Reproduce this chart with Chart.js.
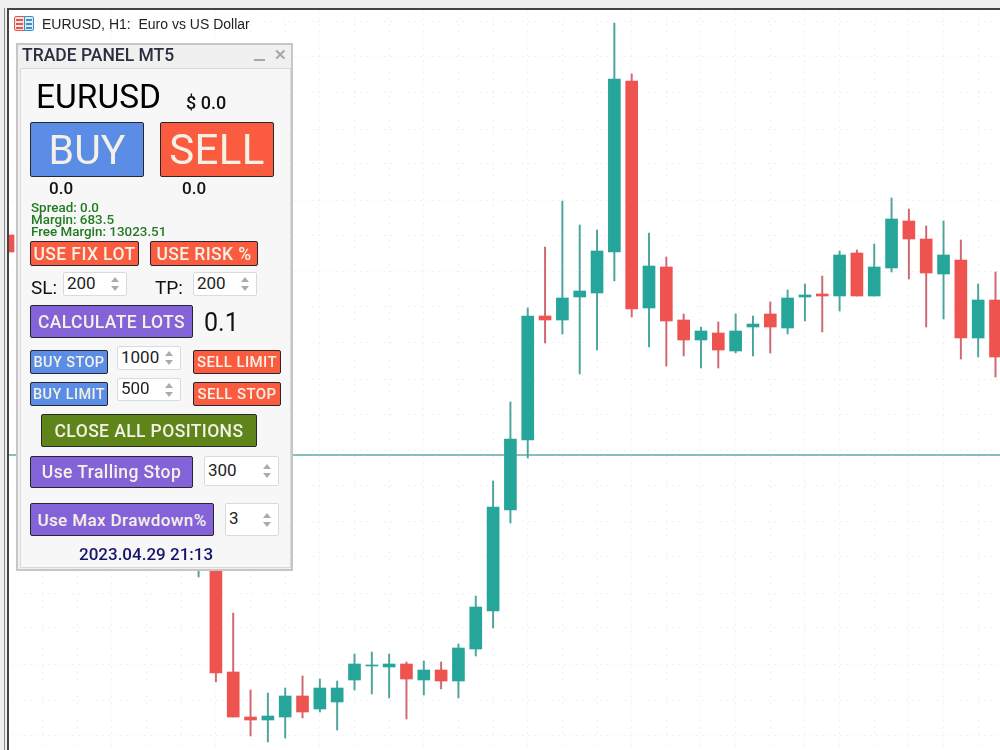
<!DOCTYPE html>
<html>
<head>
<meta charset="utf-8">
<title>EURUSD, H1</title>
<script src="https://cdn.jsdelivr.net/npm/chart.js@4/dist/chart.umd.min.js"></script>
<style>
  html, body { margin: 0; padding: 0; background: #fff; overflow: hidden; }
  #wrap { position: relative; width: 1000px; height: 750px; overflow: hidden; font-family: Roboto, sans-serif; }
  #chartbox { position: absolute; left: 0; top: 0; width: 1000px; height: 750px; }
  .abs, .btn, .spin, .txt { position: absolute; box-sizing: border-box; }
  .txt { white-space: nowrap; line-height: 1; }
  .btn { display: flex; align-items: center; justify-content: center; border: 1px solid #26262e; border-radius: 2px;
         white-space: nowrap; color: #f4f1e6; letter-spacing: .4px; font-weight: 500; }
  .blue { background: #5b8de6; }
  .red { background: #fb5b3f; }
  .purple { background: #8463d8; }
  .olive { background: #5f8419; }
  .spin { background: #fff; border: 1px solid #d6dbe0; border-radius: 2px; font-size: 17px; color: #222;
          display: flex; align-items: center; padding-left: 3px; padding-bottom: 3px; }
  .spin::before, .spin::after { content: ""; position: absolute; right: 7px; border-left: 4px solid transparent; border-right: 4px solid transparent; }
  .spin::before { top: calc(50% - 7px); border-bottom: 5px solid #a9adb0; }
  .spin::after { top: calc(50% + 2px); border-top: 5px solid #a9adb0; }
  .green { color: #217a21; font-size: 13.4px; font-weight: 500; }
</style>
</head>
<body>
<div id="wrap">
  <div id="chartbox"><canvas id="main-chart"></canvas></div>

  <!-- terminal window frame -->
  <div class="abs" style="left:0;top:0;width:1000px;height:8px;background:#f0f0f0;"></div>
  <div class="abs" style="left:7px;top:8px;width:993px;height:2px;background:#444;"></div>
  <div class="abs" style="left:0;top:0;width:7px;height:750px;background:#f0f0f0;"></div>
  <div class="abs" style="left:4px;top:8px;width:1px;height:742px;background:#888;"></div>
  <div class="abs" style="left:7px;top:8px;width:2px;height:742px;background:#444;"></div>

  <!-- chart title -->
  <div class="abs" style="left:14px;top:16px;width:11px;height:15px;background:#fbe3e1;border:1px solid #e2574c;border-radius:2px 0 0 2px;"></div>
  <div class="abs" style="left:24px;top:16px;width:10px;height:15px;background:#dcecf7;border:1px solid #3f8fc4;border-radius:0 2px 2px 0;"></div>
  <div class="abs" style="left:16px;top:19px;width:7px;height:2px;background:#e2574c;"></div>
  <div class="abs" style="left:16px;top:23px;width:7px;height:2px;background:#e2574c;"></div>
  <div class="abs" style="left:16px;top:27px;width:7px;height:2px;background:#e2574c;"></div>
  <div class="abs" style="left:26px;top:19px;width:6px;height:2px;background:#3f8fc4;"></div>
  <div class="abs" style="left:26px;top:23px;width:6px;height:2px;background:#3f8fc4;"></div>
  <div class="abs" style="left:26px;top:27px;width:6px;height:2px;background:#3f8fc4;"></div>
  <div class="txt" style="left:42px;top:17px;font-size:14px;color:#222;font-family:'Liberation Sans',sans-serif;">EURUSD, H1:&nbsp; Euro vs US Dollar</div>

  <!-- trade panel -->
  <div class="abs" style="left:16px;top:43px;width:277px;height:528px;background:#f0f0f0;border:2px solid #c6c6c6;"></div>
  <div class="abs" style="left:20px;top:68px;width:271px;height:500px;background:#f7f7f7;border:1px solid #d9d9d9;"></div>
  <div class="txt" style="left:22px;top:47px;font-size:17.5px;font-weight:500;color:#2a2f3f;">TRADE PANEL MT5</div>
  <div class="abs" style="left:254px;top:59px;width:11px;height:2px;background:#a8a8a8;"></div>
  <div class="txt" style="left:274px;top:48px;font-size:15px;font-weight:700;color:#a8a8a8;">✕</div>

  <div class="txt" style="left:36px;top:80px;font-size:33.5px;color:#000;">EURUSD</div>
  <div class="txt" style="left:186px;top:94px;font-size:18px;font-weight:500;color:#111;">$ 0.0</div>

  <div class="btn blue" style="left:30px;top:122px;width:114px;height:55px;font-size:41px;font-weight:400;letter-spacing:0;">BUY</div>
  <div class="btn red" style="left:160px;top:122px;width:114px;height:55px;font-size:42px;font-weight:400;">SELL</div>
  <div class="txt" style="left:49px;top:180px;font-size:17px;font-weight:500;color:#111;">0.0</div>
  <div class="txt" style="left:182px;top:180px;font-size:17px;font-weight:500;color:#111;">0.0</div>

  <div class="txt green" style="left:31px;top:201px;">Spread: 0.0</div>
  <div class="txt green" style="left:31px;top:213px;">Margin: 683.5</div>
  <div class="txt green" style="left:31px;top:225px;">Free Margin: 13023.51</div>

  <div class="btn red" style="left:30px;top:241px;width:109px;height:25px;font-size:17.5px;">USE FIX LOT</div>
  <div class="btn red" style="left:150px;top:241px;width:108px;height:25px;font-size:17.5px;">USE RISK %</div>

  <div class="txt" style="left:31px;top:278px;font-size:19px;color:#111;">SL:</div>
  <div class="spin" style="left:63px;top:272px;width:64px;height:24px;">200</div>
  <div class="txt" style="left:155px;top:278px;font-size:19px;color:#111;">TP:</div>
  <div class="spin" style="left:193px;top:272px;width:64px;height:24px;">200</div>

  <div class="btn purple" style="left:30px;top:305px;width:163px;height:33px;font-size:17.5px;">CALCULATE LOTS</div>
  <div class="txt" style="left:204px;top:310px;font-size:25px;color:#111;">0.1</div>

  <div class="btn blue" style="left:30px;top:350px;width:78px;height:24px;font-size:14.5px;">BUY STOP</div>
  <div class="spin" style="left:117px;top:346px;width:64px;height:24px;">1000</div>
  <div class="btn red" style="left:193px;top:350px;width:88px;height:24px;font-size:15px;">SELL LIMIT</div>
  <div class="btn blue" style="left:30px;top:382px;width:78px;height:24px;font-size:14.5px;">BUY LIMIT</div>
  <div class="spin" style="left:117px;top:378px;width:64px;height:23px;">500</div>
  <div class="btn red" style="left:193px;top:382px;width:88px;height:24px;font-size:15px;">SELL STOP</div>

  <div class="btn olive" style="left:41px;top:414px;width:216px;height:33px;font-size:17.5px;">CLOSE ALL POSITIONS</div>
  <div class="btn purple" style="left:30px;top:456px;width:163px;height:32px;font-size:17.5px;">Use Tralling Stop</div>
  <div class="spin" style="left:204px;top:456px;width:75px;height:30px;">300</div>
  <div class="btn purple" style="left:30px;top:503px;width:184px;height:33px;font-size:17px;">Use Max Drawdown%</div>
  <div class="spin" style="left:225px;top:503px;width:54px;height:33px;">3</div>
  <div class="txt" style="left:79px;top:546px;font-size:17px;font-weight:500;color:#14146e;">2023.04.29 21:13</div>
</div>

<script>
// ==================== DATOS ====================
const opens = [1.09515, null, null, null, null, null, null, null, null, null, null,
  1.09184, 1.09202, 1.09078, 1.09033, 1.09030, 1.09033, 1.09054, 1.09041, 1.09048,
  1.09070, 1.09084, 1.09083, 1.09086, 1.09070, 1.09080, 1.09069, 1.09101, 1.09139,
  1.09240, 1.09310, 1.09434, 1.09430, 1.09453, 1.09457, 1.09498, 1.09669, 1.09442,
  1.09483, 1.09430, 1.09410, 1.09417, 1.09399, 1.09423, 1.09436, 1.09422, 1.09453,
  1.09456, 1.09454, 1.09497, 1.09454, 1.09482, 1.09529, 1.09511, 1.09476, 1.09490,
  1.09412, 1.09450];
const closes = [1.09498, null, null, null, null, null, null, null, null, null, null,
  1.09197, 1.09077, 1.09033, 1.09030, 1.09034, 1.09054, 1.09038, 1.09062, 1.09062,
  1.09086, 1.09085, 1.09086, 1.09071, 1.09080, 1.09069, 1.09102, 1.09143, 1.09243,
  1.09311, 1.09434, 1.09430, 1.09452, 1.09459, 1.09499, 1.09671, 1.09441, 1.09484,
  1.09429, 1.09410, 1.09419, 1.09400, 1.09419, 1.09426, 1.09423, 1.09452, 1.09455,
  1.09454, 1.09495, 1.09454, 1.09483, 1.09531, 1.09511, 1.09477, 1.09495, 1.09412,
  1.09450, 1.09393];
const highs = [1.09520, null, null, null, null, null, null, null, null, null, null,
  1.09205, 1.09210, 1.09137, 1.09060, 1.09057, 1.09062, 1.09074, 1.09071, 1.09069,
  1.09096, 1.09098, 1.09096, 1.09088, 1.09089, 1.09088, 1.09106, 1.09154, 1.09269,
  1.09348, 1.09442, 1.09503, 1.09549, 1.09525, 1.09520, 1.09727, 1.09676, 1.09517,
  1.09493, 1.09436, 1.09423, 1.09428, 1.09436, 1.09434, 1.09448, 1.09460, 1.09466,
  1.09474, 1.09499, 1.09500, 1.09506, 1.09552, 1.09541, 1.09524, 1.09529, 1.09510,
  1.09466, 1.09478];
const lows = [1.09492, null, null, null, null, null, null, null, null, null, null,
  1.09173, 1.09068, 1.09033, 1.09014, 1.09008, 1.09012, 1.09032, 1.09038, 1.09020,
  1.09060, 1.09056, 1.09052, 1.09031, 1.09055, 1.09061, 1.09052, 1.09094, 1.09122,
  1.09227, 1.09292, 1.09407, 1.09416, 1.09376, 1.09400, 1.09469, 1.09433, 1.09403,
  1.09384, 1.09394, 1.09382, 1.09382, 1.09397, 1.09394, 1.09397, 1.09416, 1.09429,
  1.09418, 1.09439, 1.09454, 1.09454, 1.09478, 1.09471, 1.09423, 1.09431, 1.09391,
  1.09393, 1.09373];
const bidPrice = 1.09295;
const priceLevels = [1.09728, 1.09693, 1.09657, 1.09621, 1.09586, 1.09550, 1.09514,
  1.09478, 1.09443, 1.09407, 1.09371, 1.09335, 1.09300, 1.09264, 1.09229, 1.09193,
  1.09157, 1.09122, 1.09086, 1.09050, 1.09014];

// ==================== COLORES ====================
const upColor = '#26a69a';
const downColor = '#ef5350';
const upWick = '#4ba59c';
const downWick = '#cf6670';

const candles = opens
  .map((open, i) => ({ i, open, close: closes[i], high: highs[i], low: lows[i] }))
  .filter(c => c.open !== null);
const isUp = c => c.close >= c.open;

const xMin = -0.462;
const xMax = 57.26;

new Chart(document.getElementById('main-chart'), {
  type: 'bar',
  data: {
    datasets: [
      {
        label: 'body',
        data: candles.map(c => ({ x: c.i, y: [c.open, c.close] })),
        backgroundColor: candles.map(c => isUp(c) ? upColor : downColor),
        barThickness: 12,
        grouped: false,
        order: 1
      },
      {
        label: 'wick',
        data: candles.map(c => ({ x: c.i, y: [c.low, c.high] })),
        backgroundColor: candles.map(c => isUp(c) ? upWick : downWick),
        barThickness: 1.3,
        grouped: false,
        order: 2
      },
      {
        type: 'line',
        label: 'bid',
        data: [{ x: xMin, y: bidPrice }, { x: xMax, y: bidPrice }],
        borderColor: '#62aaa4',
        borderWidth: 1.4,
        pointRadius: 0,
        order: 3
      }
    ]
  },
  options: {
    responsive: true,
    maintainAspectRatio: false,
    animation: false,
    layout: { padding: 0 },
    plugins: { legend: { display: false }, tooltip: { enabled: false } },
    scales: {
      x: {
        type: 'linear',
        min: xMin,
        max: xMax,
        offset: false,
        afterBuildTicks: scale => {
          scale.ticks = opens.map((_, i) => ({ value: i })).filter(t => t.value % 2 === 0);
        },
        grid: { color: '#f2f2f2', drawTicks: false, offset: false },
        border: { display: false, dash: [2, 4] },
        ticks: { display: false }
      },
      y: {
        min: 1.09,
        max: 1.0975,
        afterBuildTicks: scale => {
          scale.ticks = priceLevels.map(value => ({ value }));
        },
        grid: { color: '#f2f2f2', drawTicks: false },
        border: { display: false, dash: [2, 4] },
        ticks: { display: false }
      }
    }
  }
});
</script>
</body>
</html>
